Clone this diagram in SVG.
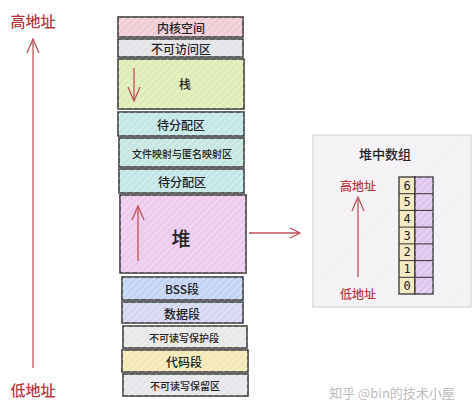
<svg xmlns="http://www.w3.org/2000/svg" width="474" height="408" viewBox="0 0 474 408">
<defs>
<pattern id="hatch" width="5" height="5" patternUnits="userSpaceOnUse" patternTransform="rotate(45)">
<rect width="5" height="5" fill="none"/>
<line x1="0" y1="0" x2="0" y2="5" stroke="#ffffff" stroke-opacity="0.5" stroke-width="1.5"/>
</pattern>
<marker id="open" viewBox="0 0 12 12" refX="11" refY="6" markerWidth="12" markerHeight="12" markerUnits="userSpaceOnUse" orient="auto">
<path d="M1,1 L11,6 L1,11" fill="none" stroke="#c0505a" stroke-width="1.3"/>
</marker>
<marker id="openBig" viewBox="0 0 16 16" refX="15" refY="8" markerWidth="16" markerHeight="16" markerUnits="userSpaceOnUse" orient="auto">
<path d="M1,2 L15,8 L1,14" fill="none" stroke="#c0505a" stroke-width="1.3"/>
</marker>
</defs>
<style>
.seg{stroke:#333;stroke-width:1.5}
.h{fill:url(#hatch);stroke:none}
.t{font-family:"Noto Sans CJK SC","Liberation Sans",sans-serif;fill:#222;text-anchor:middle;dominant-baseline:central;font-weight:500}
.red{font-family:"Noto Sans CJK SC","Liberation Sans",sans-serif;fill:#b8373f;text-anchor:middle;dominant-baseline:central;font-weight:500}
.arr{stroke:#c0505a;stroke-width:1.3;fill:none}
.num{font-family:"DejaVu Sans Mono","Liberation Mono",monospace;font-size:12px;fill:#222;text-anchor:middle;dominant-baseline:central}
</style>
<rect width="474" height="408" fill="#ffffff"/>

<g id="label-high"><text class="red" x="33" y="20" font-size="15">高地址</text></g>
<g id="label-low"><text class="red" x="33" y="389" font-size="15">低地址</text></g>

<g id="kernel"><rect class="seg" x="118" y="17" width="125" height="20" fill="#f0cdd5"/><rect class="h" x="118" y="17" width="125" height="20"/><text class="t" x="181" y="27" font-size="12">内核空间</text></g>
<g id="noaccess"><rect class="seg" x="118" y="39" width="125" height="18" fill="#e3e3e8"/><rect class="h" x="118" y="39" width="125" height="18"/><text class="t" x="181" y="48" font-size="12">不可访问区</text></g>
<g id="stack"><rect class="seg" x="118" y="59" width="126" height="50" fill="#deedb8"/><rect class="h" x="118" y="59" width="126" height="50"/><text class="t" x="185" y="83" font-size="12">栈</text></g>
<g id="free1"><rect class="seg" x="118" y="112" width="126" height="24" fill="#c3e7e6"/><rect class="h" x="118" y="112" width="126" height="24"/><text class="t" x="181" y="124" font-size="12">待分配区</text></g>
<g id="mmap"><rect class="seg" x="119" y="138" width="125" height="29" fill="#c6e6e2"/><rect class="h" x="119" y="138" width="125" height="29"/><text class="t" x="182" y="153" font-size="10">文件映射与匿名映射区</text></g>
<g id="free2"><rect class="seg" x="119" y="169" width="125" height="24" fill="#c3e7e6"/><rect class="h" x="119" y="169" width="125" height="24"/><text class="t" x="182" y="181" font-size="12">待分配区</text></g>
<g id="heap"><rect class="seg" x="120" y="195" width="126" height="78" fill="#edcbec"/><rect class="h" x="120" y="195" width="126" height="78"/><text class="t" x="181" y="237" font-size="19" font-weight="bold">堆</text></g>
<g id="bss"><rect class="seg" x="122" y="277" width="121" height="23" fill="#c3d4f3"/><rect class="h" x="122" y="277" width="121" height="23"/><text class="t" x="182" y="288" font-size="12">BSS段</text></g>
<g id="data"><rect class="seg" x="122" y="302" width="121" height="21" fill="#d4d7f2"/><rect class="h" x="122" y="302" width="121" height="21"/><text class="t" x="182" y="313" font-size="12">数据段</text></g>
<g id="guard"><rect class="seg" x="123" y="326" width="124" height="22" fill="#e8e8e8"/><rect class="h" x="123" y="326" width="124" height="22"/><text class="t" x="184" y="337" font-size="10">不可读写保护段</text></g>
<g id="text-seg"><rect class="seg" x="122" y="350" width="126" height="22" fill="#f4e8b6"/><rect class="h" x="122" y="350" width="126" height="22"/><text class="t" x="184" y="361" font-size="12">代码段</text></g>
<g id="reserved"><rect class="seg" x="123" y="374" width="125" height="22" fill="#e6e6eb"/><rect class="h" x="123" y="374" width="125" height="22"/><text class="t" x="185" y="385" font-size="10">不可读写保留区</text></g>

<g id="heap-array-panel">
<rect x="313" y="135" width="158" height="172" fill="#f4f1f5" stroke="#cccccc" stroke-width="1"/>
<rect x="313" y="135" width="158" height="172" fill="url(#hatch)"/>
<text class="t" x="385" y="153" font-size="13">堆中数组</text>
<text class="red" x="358" y="185" font-size="12">高地址</text>
<text class="red" x="358" y="293" font-size="12">低地址</text>
<rect x="399" y="177" width="16" height="117" fill="#f5eac3" stroke="#333" stroke-width="1.3"/>
<rect x="415" y="177" width="18" height="117" fill="#dfc6ef" stroke="#333" stroke-width="1.3"/>
<rect x="415" y="177" width="18" height="117" fill="url(#hatch)"/>
<g stroke="#333" stroke-width="1">
<line x1="399" y1="193.7" x2="433" y2="193.7"/>
<line x1="399" y1="210.4" x2="433" y2="210.4"/>
<line x1="399" y1="227.1" x2="433" y2="227.1"/>
<line x1="399" y1="243.9" x2="433" y2="243.9"/>
<line x1="399" y1="260.6" x2="433" y2="260.6"/>
<line x1="399" y1="277.3" x2="433" y2="277.3"/>
</g>
<text class="num" x="407" y="185.5">6</text>
<text class="num" x="407" y="202">5</text>
<text class="num" x="407" y="219">4</text>
<text class="num" x="407" y="235.5">3</text>
<text class="num" x="407" y="252">2</text>
<text class="num" x="407" y="269">1</text>
<text class="num" x="407" y="285.5">0</text>
</g>

<g id="connectors">
<line class="arr" x1="33" y1="368" x2="33" y2="39" marker-end="url(#openBig)"/>
<line class="arr" x1="134" y1="68" x2="134" y2="101" marker-end="url(#openBig)"/>
<line class="arr" x1="138" y1="261" x2="138" y2="206" marker-end="url(#openBig)"/>
<line class="arr" x1="249" y1="233" x2="300" y2="233" marker-end="url(#open)"/>
<line class="arr" x1="358" y1="277" x2="358" y2="197" marker-end="url(#openBig)"/>
</g>

<g id="watermark"><text x="392" y="392" font-family="Noto Sans CJK SC,Liberation Sans,sans-serif" font-size="13" fill="#bbbbbb" text-anchor="middle" dominant-baseline="central">知乎 @bin的技术小屋</text></g>
</svg>
